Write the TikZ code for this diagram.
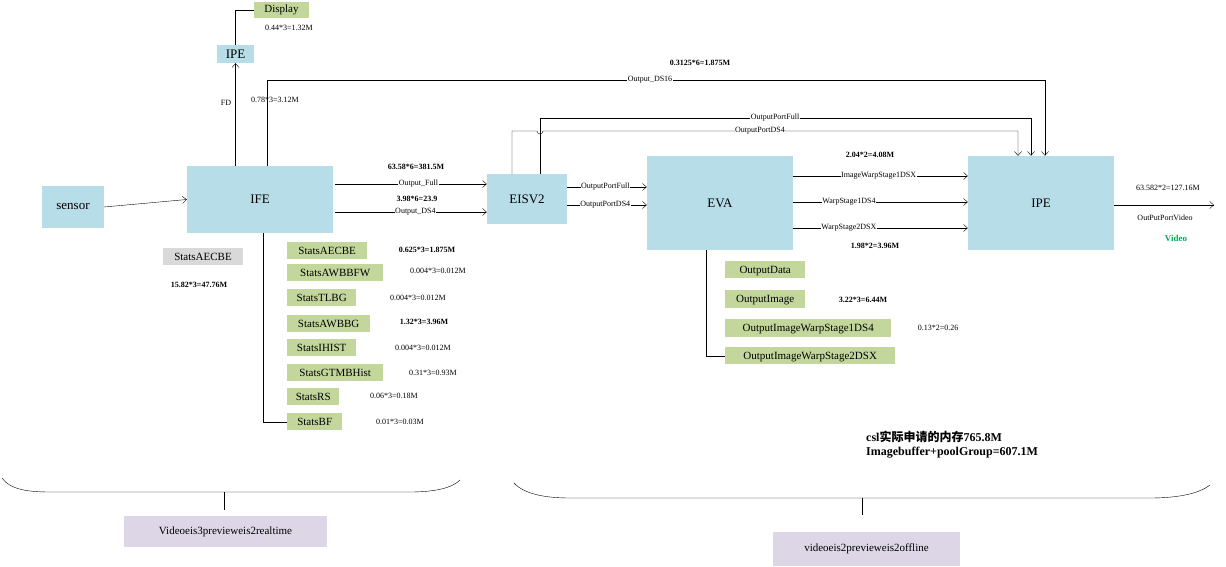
\documentclass[tikz,border=0pt]{standalone}
\usepackage{fontspec}
\setmainfont{Liberation Serif}
\newfontfamily\cjk{Noto Sans CJK SC}
\usetikzlibrary{arrows.meta}
\definecolor{lblue}{HTML}{B7DDE8}
\definecolor{lgreen}{HTML}{C3D69B}
\definecolor{lgray}{HTML}{D9D9D9}
\definecolor{lav}{HTML}{DCD6E6}
\definecolor{vgreen}{HTML}{00B050}
\begin{document}
\begin{tikzpicture}[x=1pt,y=-1pt,
  bb/.style={fill=lblue,inner sep=0,font=\fontsize{13}{13}\selectfont},
  gb/.style={fill=lgreen,inner sep=0,anchor=north west,font=\fontsize{11}{11}\selectfont,text depth=0pt},
  lab/.style={font=\fontsize{8}{8}\selectfont,inner sep=1pt},
  blab/.style={font=\fontsize{8}{8}\selectfont\bfseries,inner sep=1pt},
  ol/.style={fill=white,font=\fontsize{8}{8}\selectfont,inner sep=0.5pt},
  ar/.style={-{Straight Barb[length=4pt,width=7pt]},thin},
  ln/.style={thin}]
\useasboundingbox (0,0) rectangle (1226,567);
% boxes
\node[bb,minimum width=62,minimum height=42] (sensor) at (73,207) {sensor};
\node[bb,minimum width=146,minimum height=67] (ife) at (260,199.5) {IFE};
\node[bb,minimum width=37,minimum height=18] (ipes) at (235.5,54) {IPE};
\node[fill=lgreen,inner sep=0,minimum width=55,minimum height=16,font=\fontsize{11}{11}\selectfont] (disp) at (281.5,10) {Display};
\node[bb,minimum width=80,minimum height=50] (eisv) at (527,199) {EISV2};
\node[bb,minimum width=146,minimum height=94] (eva) at (720,203) {EVA};
\node[bb,minimum width=146,minimum height=94] (ipe) at (1041,203) {IPE};
% left top
\draw[ar] (ife.north -| ipes) -- (ipes.south);
\node[lab] (fd) at (226,103) {FD};
\draw[ln] (ipes.north) |- (disp.west);
\node[lab] (l1) at (289,28) {0.44*3=1.32M};
\node[lab] (l2) at (275,100) {0.78*3=3.12M};
\coordinate (d16a) at (267,166);
\coordinate (d16b) at (1045,80);
\draw[ar] (d16a) |- (d16b) -- (ipe.north -| d16b);
\node[ol] (d16) at (650,80) {Output\_DS16};
\node[blab] (l3) at (700,63) {0.3125*6=1.875M};
% sensor
\draw[ar] (sensor.east) -- (ife.west);
% IFE -> EISV2
\coordinate (f1) at (335,184); \coordinate (f2) at (335,212);
\draw[ar] (f1) -- (f1 -| eisv.west) node[ol,pos=0.55] {Output\_Full};
\draw[ar] (f2) -- (f2 -| eisv.west) node[ol,pos=0.53] {Output\_DS4};
\node[blab] (l4) at (416,167) {63.58*6=381.5M};
\node[blab] (l5) at (417,199) {3.98*6=23.9};
% EISV2 top lines
\coordinate (e1) at (512,174); \coordinate (e2) at (540,174);
\coordinate (t1) at (1018,131); \coordinate (t2) at (1031,118);
\draw[ar] (e1) -- (512,131) -- (537,131) arc[start angle=180,end angle=0,radius=3] -- (t1) -- (ipe.north -| t1);
\draw[ar] (e2) -- (540,118) -- (t2) -- (ipe.north -| t2);
\node[ol] (p1) at (775,118) {OutputPortFull};
\node[ol] (p2) at (760,131) {OutputPortDS4};
% EISV2 -> EVA
\coordinate (g1) at (567,187); \coordinate (g2) at (567,205);
\draw[ar] (g1) -- (g1 -| eva.west) node[ol,pos=0.48] {OutputPortFull};
\draw[ar] (g2) -- (g2 -| eva.west) node[ol,pos=0.48] {OutputPortDS4};
% EVA -> IPE
\coordinate (h1) at (793,176); \coordinate (h2) at (793,202); \coordinate (h3) at (793,228);
\draw[ar] (h1) -- (h1 -| ipe.west) node[ol,pos=0.49] {ImageWarpStage1DSX};
\draw[ar] (h2) -- (h2 -| ipe.west) node[ol,pos=0.32] {WarpStage1DS4};
\draw[ar] (h3) -- (h3 -| ipe.west) node[ol,pos=0.32] {WarpStage2DSX};
\node[blab] (l6) at (870,155) {2.04*2=4.08M};
\node[blab] (l7) at (875,246) {1.98*2=3.96M};
% IPE out
\coordinate (vo) at (1214,205);
\draw[ar] (ipe.east |- vo) -- (vo);
\node[lab] (l8) at (1168,188) {63.582*2=127.16M};
\node[lab] (l9) at (1165,218) {OutPutPortVideo};
\node[font=\fontsize{9}{9}\selectfont\bfseries,text=vgreen,inner sep=0] (vid) at (1176,238) {Video};
% EVA tree
\node[gb,minimum width=80,minimum height=17] (od) at (725,261) {OutputData};
\node[gb,minimum width=80,minimum height=18] (oi) at (725,290) {OutputImage};
\node[gb,minimum width=166,minimum height=18] (ow1) at (725,319) {OutputImageWarpStage1DS4};
\node[gb,minimum width=170,minimum height=17] (ow2) at (725,347) {OutputImageWarpStage2DSX};
\draw[ln] (eva.south -| 706,0) |- (ow2.west);
\node[blab] (l10) at (863,300) {3.22*3=6.44M};
\node[lab] (l11) at (938,328) {0.13*2=0.26};
% IFE tree
\node[gb,minimum width=80,minimum height=17] (s1) at (287,242) {StatsAECBE};
\node[gb,minimum width=96,minimum height=17] (s2) at (287,264) {StatsAWBBFW};
\node[gb,minimum width=69,minimum height=17] (s3) at (287,289) {StatsTLBG};
\node[gb,minimum width=83,minimum height=17] (s4) at (287,315) {StatsAWBBG};
\node[gb,minimum width=69,minimum height=17] (s5) at (287,339) {StatsIHIST};
\node[gb,minimum width=96,minimum height=17] (s6) at (287,364) {StatsGTMBHist};
\node[gb,minimum width=52,minimum height=17] (s7) at (287,388) {StatsRS};
\node[gb,minimum width=55,minimum height=17] (s8) at (287,413) {StatsBF};
\draw[ln] (ife.south -| 263,0) |- (s8.west);
\node[blab] (m1) at (427,250) {0.625*3=1.875M};
\node[lab] (m2) at (438,271) {0.004*3=0.012M};
\node[lab] (m3) at (418,298) {0.004*3=0.012M};
\node[blab] (m4) at (424,322) {1.32*3=3.96M};
\node[lab] (m5) at (423,348) {0.004*3=0.012M};
\node[lab] (m6) at (433,373) {0.31*3=0.93M};
\node[lab] (m7) at (394,396) {0.06*3=0.18M};
\node[lab] (m8) at (400,422) {0.01*3=0.03M};
\node[fill=lgray,inner sep=0,minimum width=80,minimum height=17,font=\fontsize{11}{11}\selectfont] (sg) at (203,256.5) {StatsAECBE};
\node[blab] (m9) at (199,285) {15.82*3=47.76M};
% summary
\node[anchor=west,inner sep=0,font=\fontsize{12}{14}\selectfont\bfseries,align=left] (sum) at (866,445) {csl{\cjk 实际申请的内存}765.8M\\Imagebuffer+poolGroup=607.1M};
% braces
\draw[ln] (2,478) .. controls (10,490) and (30,492) .. (50,492) -- (410,492) .. controls (435,492) and (452,488) .. (460,480);
\draw[ln] (224,492) -- (224,510);
\draw[ln] (514,483) .. controls (524,494) and (545,498) .. (570,498) -- (1150,498) .. controls (1180,498) and (1200,493) .. (1210,485);
\draw[ln] (862,498) -- (862,515);
\node[fill=lav,inner sep=0,minimum width=203,minimum height=31,font=\fontsize{11}{11}\selectfont] (vr) at (225.5,531.5) {Videoeis3previeweis2realtime};
\node[fill=lav,inner sep=0,minimum width=187,minimum height=34,font=\fontsize{11}{11}\selectfont] (vo2) at (866.5,549) {videoeis2previeweis2offline};
\end{tikzpicture}
\end{document}
